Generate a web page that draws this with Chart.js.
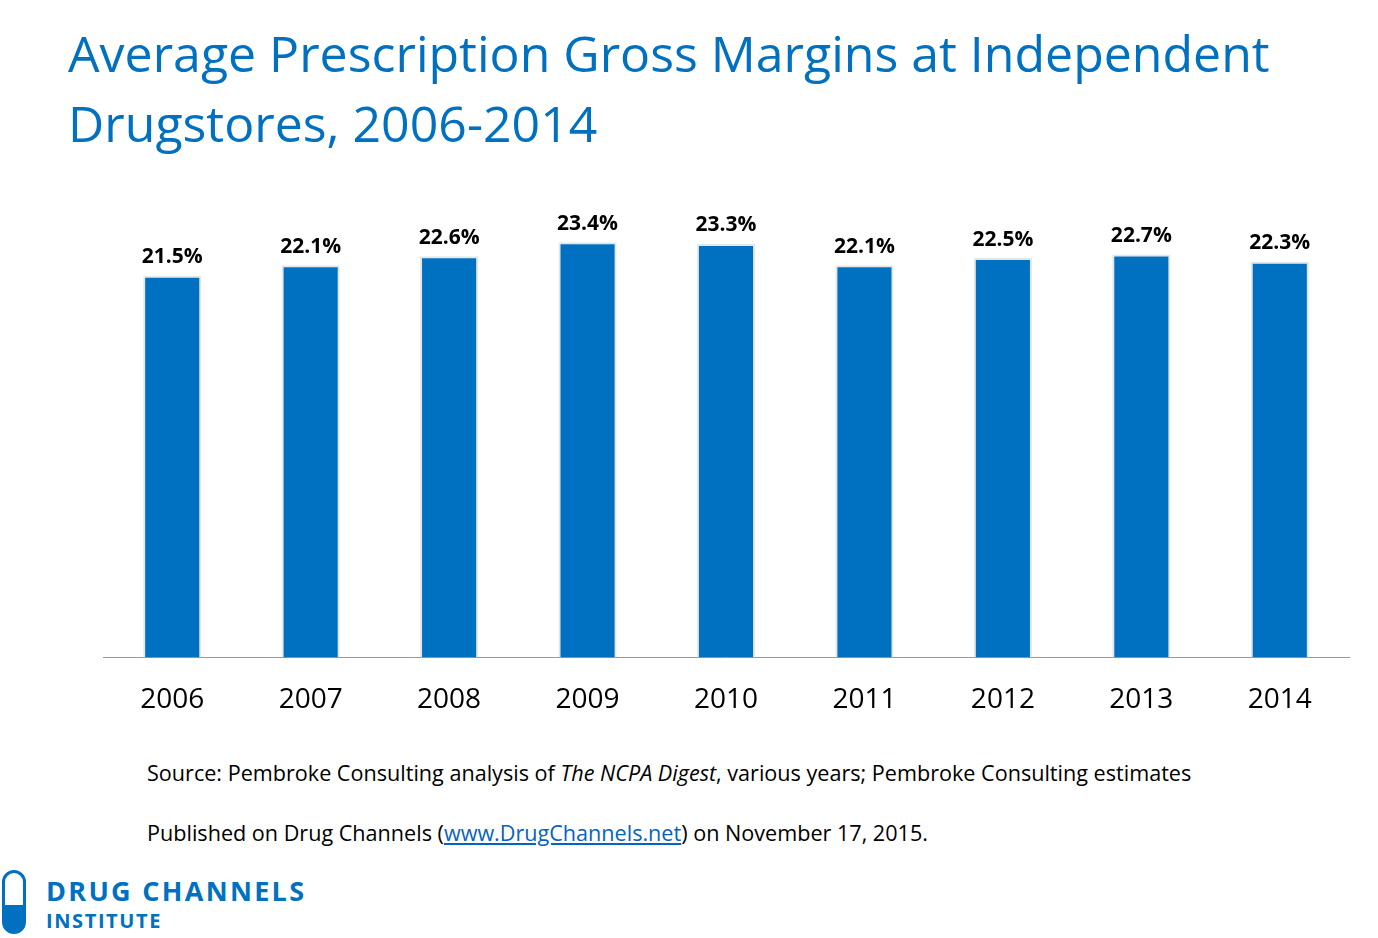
<!DOCTYPE html><html><head><meta charset="utf-8">
<script src="https://cdn.jsdelivr.net/npm/chart.js@4"></script>
<style>
body{margin:0;width:1378px;height:938px;background:#fff;position:relative;font-family:"Open Sans","Noto Sans",sans-serif;overflow:hidden}
#t{position:absolute;left:68px;top:18px;color:#0070C0;font-size:50px;line-height:70px;letter-spacing:0px}
.n{position:absolute;left:147px;font-size:21.6px;color:#000}
#cw{position:absolute;left:0;top:0;width:1378px;height:743px}
a{color:#0563C1}
</style></head><body>
<div id="t">Average Prescription Gross Margins at Independent<br>Drugstores, 2006-2014</div>
<div id="cw"><canvas id="c"></canvas></div>
<div class="n" style="top:758px">Source: Pembroke Consulting analysis of <i>The NCPA Digest</i>, various years; Pembroke Consulting estimates</div>
<div class="n" style="top:818px">Published on Drug Channels (<a href="#">www.DrugChannels.net</a>) on November 17, 2015.</div>
<div style="position:absolute;left:2px;top:870px;width:24px;height:64px;border:3px solid #0070C0;border-radius:12px;box-sizing:border-box;background:linear-gradient(#fff 55%,#0070C0 55%)"></div>
<div style="position:absolute;left:46px;top:872px;color:#0070C0;font-weight:bold;font-size:27px;letter-spacing:2.3px">DRUG CHANNELS</div>
<div style="position:absolute;left:46px;top:907px;color:#0070C0;font-weight:bold;font-size:20px;letter-spacing:1.6px">INSTITUTE</div>
<script>
const years=["2006","2007","2008","2009","2010","2011","2012","2013","2014"];
const margins=[21.5,22.1,22.6,23.4,23.3,22.1,22.5,22.7,22.3];
const labelPlugin={id:'lbl',afterDatasetsDraw(ch){const c=ch.ctx;const m=ch.getDatasetMeta(0);c.save();c.font='bold 21px "Open Sans",sans-serif';c.fillStyle='#000';c.textAlign='center';c.textBaseline='bottom';m.data.forEach((b,i)=>c.fillText(margins[i].toFixed(1)+'%',b.x,b.y-8));c.restore();}};
new Chart(document.getElementById('c'),{type:'bar',data:{labels:years,datasets:[{data:margins,backgroundColor:'#0070C0',borderColor:'#e6e6e6',borderWidth:2,categoryPercentage:1,barPercentage:0.42}]},
options:{responsive:true,maintainAspectRatio:false,animation:false,layout:{padding:{left:103,right:29,top:125,bottom:0}},
plugins:{legend:{display:false},tooltip:{enabled:false}},
scales:{y:{display:false,min:0,max:30},x:{grid:{display:false,drawTicks:false},border:{color:'#999',width:1},ticks:{color:'#000',font:{size:28,family:'"Open Sans",sans-serif'},padding:26}}}},plugins:[labelPlugin]});
</script></body></html>
